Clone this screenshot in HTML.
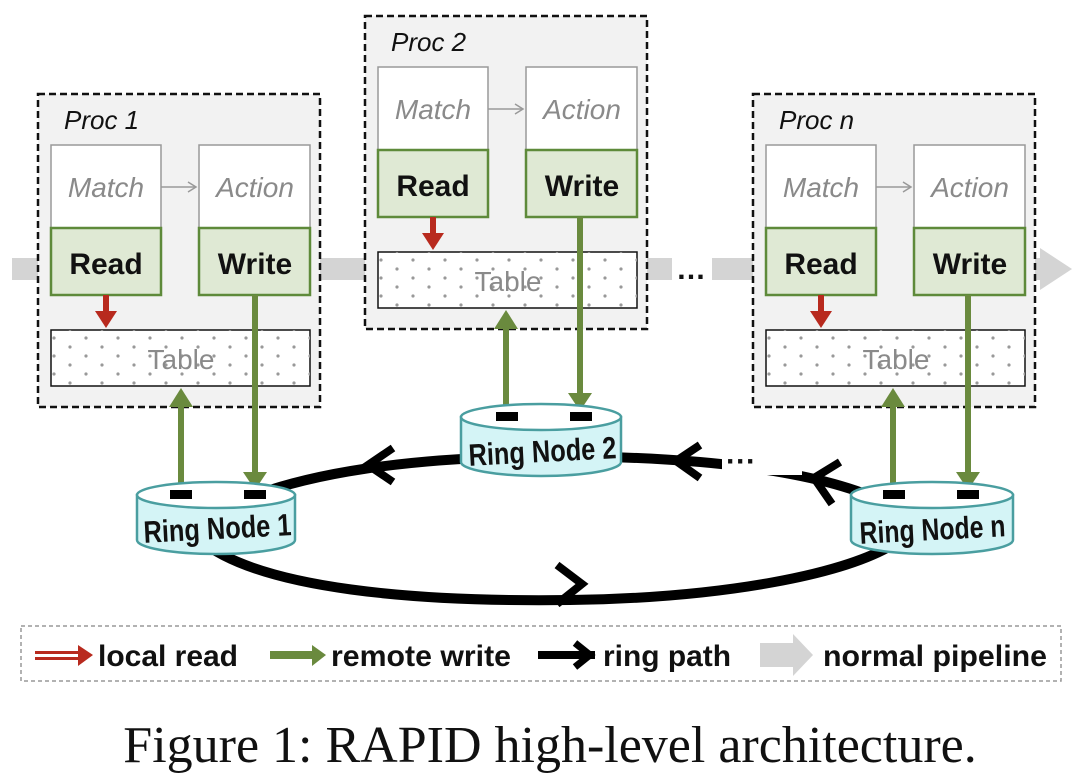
<!DOCTYPE html>
<html><head><meta charset="utf-8"><style>
html,body{margin:0;padding:0;background:#fff;}
svg{display:block;}
.it{font-family:"Liberation Sans",sans-serif;font-style:italic;fill:#8a8a8a;font-size:28px;}
.pl{font-family:"Liberation Sans",sans-serif;font-style:italic;fill:#111;font-size:26px;}
.bd{font-family:"Liberation Sans",sans-serif;font-weight:bold;fill:#111;font-size:30px;}
.tb{font-family:"Liberation Sans",sans-serif;fill:#8a8a8a;font-size:28px;}
.rn{font-family:"Liberation Sans",sans-serif;font-weight:bold;fill:#111;font-size:31px;}
.lg{font-family:"Liberation Sans",sans-serif;font-weight:bold;fill:#111;font-size:30px;}
</style></head><body>
<svg width="1080" height="777" viewBox="0 0 1080 777" xmlns="http://www.w3.org/2000/svg">
<defs>
<pattern id="dots" width="32" height="18" patternUnits="userSpaceOnUse">
<circle cx="6" cy="5" r="1.6" fill="#999"/><circle cx="22" cy="14" r="1.6" fill="#999"/>
</pattern>
</defs>
<rect x="12" y="258" width="1030" height="22" fill="#d4d4d4"/>
<polygon points="1040,248 1072,269 1040,290" fill="#d4d4d4"/>
<rect x="672" y="252" width="40" height="34" fill="#fff"/>
<text x="676" y="279" class="bd" font-size="30">…</text>

<g fill="none" stroke="#000" stroke-width="10">
<path d="M220,510 C300,470 420,458 540,456 C700,456 830,470 900,510"/>
<path d="M200,540 C260,590 420,602 570,600 C720,598 850,575 900,540"/>
</g>
<rect x="722" y="445" width="80" height="30" fill="#fff"/>
<text x="726" y="471" class="bd" font-size="28">···</text>
<g fill="none" stroke="#000" stroke-width="8">
<polyline points="393,448 368,465 393,482"/>
<polyline points="700,445 676,461 700,478"/>
<polyline points="840,462 814,478 832,504"/>
<polyline points="557,565 582,584 557,604"/>
</g>

<g>
<rect x="38" y="94" width="282" height="313" fill="#f2f2f2" stroke="#111" stroke-width="2.5" stroke-dasharray="7,4"/>
<text x="64" y="129" class="pl">Proc 1</text>
<rect x="51" y="145" width="110" height="83" fill="#fff" stroke="#999" stroke-width="1.5"/>
<rect x="199" y="145" width="111" height="83" fill="#fff" stroke="#999" stroke-width="1.5"/>
<text x="106" y="197" class="it" text-anchor="middle">Match</text>
<text x="255" y="197" class="it" text-anchor="middle">Action</text>
<line x1="161" y1="187" x2="195" y2="187" stroke="#999" stroke-width="1.5"/>
<polyline points="188,182 196,187 188,192" fill="none" stroke="#999" stroke-width="1.5"/>
<rect x="51" y="228" width="110" height="67" fill="#dfe9d4" stroke="#5e8a3a" stroke-width="2.5"/>
<rect x="199" y="228" width="111" height="67" fill="#dfe9d4" stroke="#5e8a3a" stroke-width="2.5"/>
<text x="106" y="274" class="bd" text-anchor="middle">Read</text>
<text x="255" y="274" class="bd" text-anchor="middle">Write</text>
<rect x="51" y="330" width="259" height="56" fill="#fff" stroke="#111" stroke-width="1.5"/>
<rect x="51" y="330" width="259" height="56" fill="url(#dots)"/>
<text x="181" y="369" class="tb" text-anchor="middle">Table</text>
<rect x="103" y="295" width="6" height="18" fill="#b82a1e"/>
<polygon points="95,311 117,311 106,328" fill="#b82a1e"/>
</g>
<g transform="translate(327,-78)">
<rect x="38" y="94" width="282" height="313" fill="#f2f2f2" stroke="#111" stroke-width="2.5" stroke-dasharray="7,4"/>
<text x="64" y="129" class="pl">Proc 2</text>
<rect x="51" y="145" width="110" height="83" fill="#fff" stroke="#999" stroke-width="1.5"/>
<rect x="199" y="145" width="111" height="83" fill="#fff" stroke="#999" stroke-width="1.5"/>
<text x="106" y="197" class="it" text-anchor="middle">Match</text>
<text x="255" y="197" class="it" text-anchor="middle">Action</text>
<line x1="161" y1="187" x2="195" y2="187" stroke="#999" stroke-width="1.5"/>
<polyline points="188,182 196,187 188,192" fill="none" stroke="#999" stroke-width="1.5"/>
<rect x="51" y="228" width="110" height="67" fill="#dfe9d4" stroke="#5e8a3a" stroke-width="2.5"/>
<rect x="199" y="228" width="111" height="67" fill="#dfe9d4" stroke="#5e8a3a" stroke-width="2.5"/>
<text x="106" y="274" class="bd" text-anchor="middle">Read</text>
<text x="255" y="274" class="bd" text-anchor="middle">Write</text>
<rect x="51" y="330" width="259" height="56" fill="#fff" stroke="#111" stroke-width="1.5"/>
<rect x="51" y="330" width="259" height="56" fill="url(#dots)"/>
<text x="181" y="369" class="tb" text-anchor="middle">Table</text>
<rect x="103" y="295" width="6" height="18" fill="#b82a1e"/>
<polygon points="95,311 117,311 106,328" fill="#b82a1e"/>
</g>
<g transform="translate(715,0)">
<rect x="38" y="94" width="282" height="313" fill="#f2f2f2" stroke="#111" stroke-width="2.5" stroke-dasharray="7,4"/>
<text x="64" y="129" class="pl">Proc n</text>
<rect x="51" y="145" width="110" height="83" fill="#fff" stroke="#999" stroke-width="1.5"/>
<rect x="199" y="145" width="111" height="83" fill="#fff" stroke="#999" stroke-width="1.5"/>
<text x="106" y="197" class="it" text-anchor="middle">Match</text>
<text x="255" y="197" class="it" text-anchor="middle">Action</text>
<line x1="161" y1="187" x2="195" y2="187" stroke="#999" stroke-width="1.5"/>
<polyline points="188,182 196,187 188,192" fill="none" stroke="#999" stroke-width="1.5"/>
<rect x="51" y="228" width="110" height="67" fill="#dfe9d4" stroke="#5e8a3a" stroke-width="2.5"/>
<rect x="199" y="228" width="111" height="67" fill="#dfe9d4" stroke="#5e8a3a" stroke-width="2.5"/>
<text x="106" y="274" class="bd" text-anchor="middle">Read</text>
<text x="255" y="274" class="bd" text-anchor="middle">Write</text>
<rect x="51" y="330" width="259" height="56" fill="#fff" stroke="#111" stroke-width="1.5"/>
<rect x="51" y="330" width="259" height="56" fill="url(#dots)"/>
<text x="181" y="369" class="tb" text-anchor="middle">Table</text>
<rect x="103" y="295" width="6" height="18" fill="#b82a1e"/>
<polygon points="95,311 117,311 106,328" fill="#b82a1e"/>
</g>

<g fill="#6a8a3e">
<rect x="178" y="405" width="6" height="85"/><polygon points="169,407 193,407 181,388"/>
<rect x="252" y="295" width="6" height="180"/><polygon points="243,472 267,472 255,490"/>
<rect x="503" y="327" width="6" height="85"/><polygon points="494,329 518,329 506,310"/>
<rect x="577" y="217" width="6" height="178"/><polygon points="568,393 592,393 580,411"/>
<rect x="890" y="405" width="6" height="85"/><polygon points="881,407 905,407 893,388"/>
<rect x="965" y="295" width="6" height="180"/><polygon points="956,472 980,472 968,490"/>
</g>

<g>
<path d="M137,495 L137,540 A79,14 0 0 0 295,540 L295,495 Z" fill="#d4f4f6" stroke="#4a9ea0" stroke-width="2.5"/>
<ellipse cx="216" cy="495" rx="79" ry="13" fill="#fff" stroke="#4a9ea0" stroke-width="2.5"/>
<rect x="170" y="490" width="22" height="9" fill="#000"/>
<rect x="244" y="490" width="22" height="9" fill="#000"/>
<text transform="translate(218,539) rotate(-3)" class="rn" text-anchor="middle" textLength="148" lengthAdjust="spacingAndGlyphs">Ring Node 1</text>
</g>
<g>
<path d="M461,417 L461,462 A80,14 0 0 0 621,462 L621,417 Z" fill="#d4f4f6" stroke="#4a9ea0" stroke-width="2.5"/>
<ellipse cx="541" cy="417" rx="80" ry="13" fill="#fff" stroke="#4a9ea0" stroke-width="2.5"/>
<rect x="496" y="412" width="22" height="9" fill="#000"/>
<rect x="570" y="412" width="22" height="9" fill="#000"/>
<text transform="translate(543,462) rotate(-3)" class="rn" text-anchor="middle" textLength="148" lengthAdjust="spacingAndGlyphs">Ring Node 2</text>
</g>
<g>
<path d="M851,495 L851,540 A81,14 0 0 0 1013,540 L1013,495 Z" fill="#d4f4f6" stroke="#4a9ea0" stroke-width="2.5"/>
<ellipse cx="932" cy="495" rx="81" ry="13" fill="#fff" stroke="#4a9ea0" stroke-width="2.5"/>
<rect x="883" y="490" width="22" height="9" fill="#000"/>
<rect x="957" y="490" width="22" height="9" fill="#000"/>
<text transform="translate(933,540) rotate(-3)" class="rn" text-anchor="middle" textLength="146" lengthAdjust="spacingAndGlyphs">Ring Node n</text>
</g>

<rect x="21" y="626" width="1040" height="55" fill="none" stroke="#999" stroke-width="1.5" stroke-dasharray="4,3"/>
<rect x="35" y="651" width="45" height="3" fill="#b82a1e"/><rect x="35" y="657" width="45" height="3" fill="#b82a1e"/>
<polygon points="78,645 93,655 78,666" fill="#b82a1e"/>
<text x="98" y="666" class="lg" textLength="140" lengthAdjust="spacingAndGlyphs">local read</text>
<rect x="270" y="651" width="44" height="8" fill="#6a8a3e"/>
<polygon points="312,645 326,655 312,666" fill="#6a8a3e"/>
<text x="331" y="666" class="lg" textLength="180" lengthAdjust="spacingAndGlyphs">remote write</text>
<rect x="538" y="651" width="57" height="8" fill="#000"/>
<polyline points="575,643 590,655 575,667" fill="none" stroke="#000" stroke-width="7"/>
<text x="603" y="666" class="lg" textLength="128" lengthAdjust="spacingAndGlyphs">ring path</text>
<rect x="760" y="643" width="35" height="24" fill="#d4d4d4"/>
<polygon points="793,634 813,655 793,676" fill="#d4d4d4"/>
<text x="823" y="666" class="lg" textLength="224" lengthAdjust="spacingAndGlyphs">normal pipeline</text>

<text x="550" y="762" text-anchor="middle" font-family="Liberation Serif, serif" font-size="52" fill="#111">Figure 1: RAPID high-level architecture.</text>
</svg>
</body></html>
